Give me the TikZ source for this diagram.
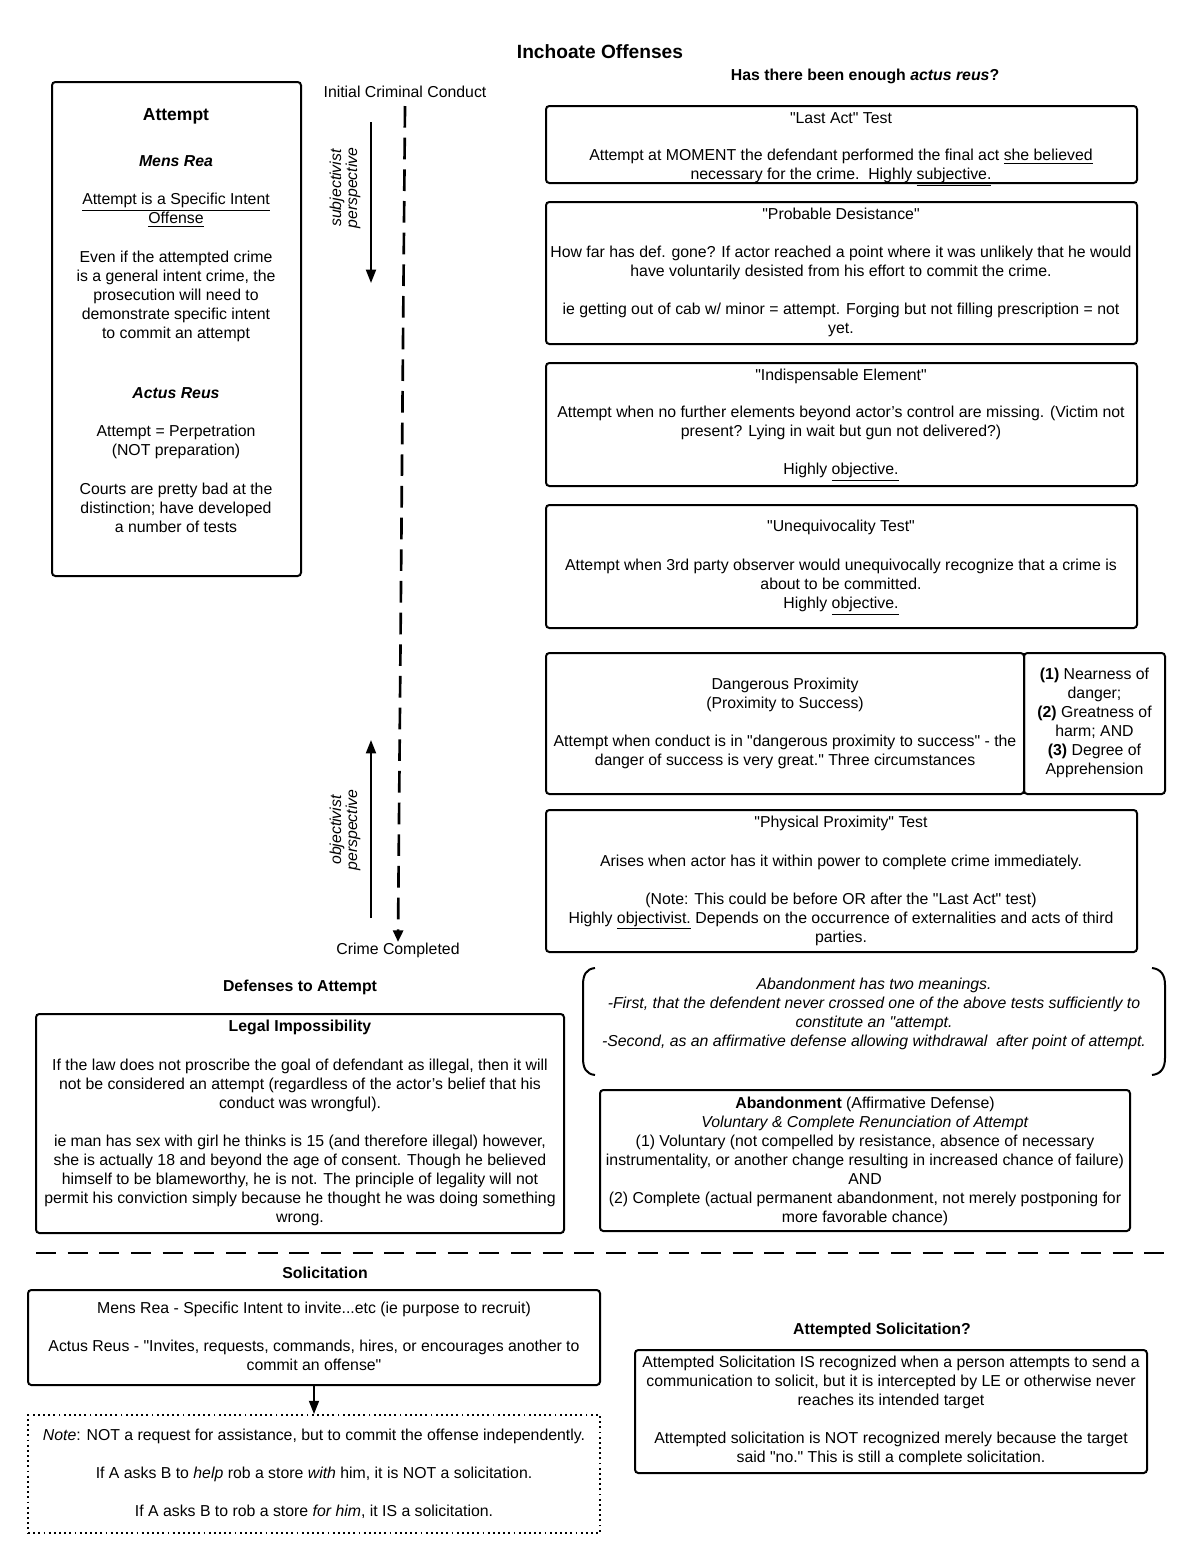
\documentclass[tikz,border=0pt]{standalone}
\usepackage{fontspec}
\setmainfont{Liberation Sans}
\usetikzlibrary{fit,arrows.meta}
\newcommand{\qd}{\textquotedbl}
\tikzset{
  box/.style={draw, line width=1.2pt, rounded corners=2pt, inner sep=0pt},
  dotbox/.style={draw, line width=1.1pt, dotted, inner sep=0pt},
  txt/.style={align=center, inner sep=0pt, font=\fontsize{9.5}{11.4}\selectfont},
  head/.style={align=center, inner sep=0pt, font=\fontsize{9.5}{11.4}\selectfont\bfseries},
  arr/.style={line width=1.1pt, -{Triangle[width=6pt,length=8pt]}},
  sidelab/.style={align=center, inner sep=0pt, rotate=90, font=\fontsize{9.5}{9.5}\selectfont\itshape},
}
\begin{document}
\begin{tikzpicture}[x=0.6pt,y=-0.6pt]
\useasboundingbox (0,0) rectangle (1200,1553);

% Title
\node[head, font=\fontsize{11.5}{13}\selectfont\bfseries] (title) at (600,52) {Inchoate Offenses};

% Attempt box
\node[box, fit={(52,82) (301,576)}] (attBox) {};
\node[head, font=\fontsize{10.5}{12}\selectfont\bfseries] (attTitle) at (176,116) {Attempt};
\node[head, font=\fontsize{9.5}{11.4}\selectfont\bfseries\itshape] (mensRea) at (176,161) {Mens Rea};
\node[txt] (specInt) at (176,210.5) {\underline{Attempt is a Specific Intent}\\\underline{Offense}};
\node[txt] (evenIf) at (176,296) {Even if the attempted crime\\is a general intent crime, the\\prosecution will need to\\demonstrate specific intent\\to commit an attempt};
\node[head, font=\fontsize{9.5}{11.4}\selectfont\bfseries\itshape] (actusReus) at (176,393) {Actus Reus};
\node[txt] (perp) at (176,441.5) {Attempt = Perpetration\\(NOT preparation)};
\node[txt] (courts) at (176,508) {Courts are pretty bad at the\\distinction; have developed\\a number of tests};

% Timeline
\node[txt] (initial) at (405,92) {Initial Criminal Conduct};
\node[txt] (completed) at (398,950) {Crime Completed};
\coordinate (dashTop) at (405,106);
\coordinate (dashBot) at (398,942);
\draw[line width=1.6pt, dash pattern=on 13pt off 6pt, -{Triangle[width=6pt,length=7pt]}] (dashTop) -- (dashBot);

\coordinate (subTop) at (371,122);
\coordinate (subBot) at (371,283);
\draw[arr] (subTop) -- (subBot);
\node[sidelab] (subLab) at (345,188) {subjectivist\\perspective};

\coordinate (objBot) at (371,918);
\coordinate (objTop) at (371,740);
\draw[arr] (objBot) -- (objTop);
\node[sidelab] (objLab) at (345,830) {objectivist\\perspective};

% Right column
\node[head] (actusQ) at (865,76) {Has there been enough \textit{actus reus}?};

\node[box, fit={(546,106) (1137,183)}] (lastBox) {};
\node[txt] (lastT) at (841,118) {\qd Last Act\qd\ Test};
\node[txt] (lastB) at (841,167.5) {Attempt at MOMENT the defendant performed the final act \underline{she believed}\\necessary for the crime.\ \ Highly \underline{subjective.}};

\node[box, fit={(546,202) (1137,344)}] (probBox) {};
\node[txt] (probT) at (841,214) {\qd Probable Desistance\qd};
\node[txt] (probB) at (841,291) {How far has def. gone? If actor reached a point where it was unlikely that he would\\have voluntarily desisted from his effort to commit the crime.\\[11.4pt]ie getting out of cab w/ minor = attempt. Forging but not filling prescription = not\\yet.};

\node[box, fit={(546,363) (1137,486)}] (indBox) {};
\node[txt] (indT) at (841,376) {\qd Indispensable Element\qd};
\node[txt] (indB) at (841,444) {Attempt when no further elements beyond actor's control are missing. (Victim not\\present? Lying in wait but gun not delivered?)\\[11.4pt]Highly \underline{objective.}};

\node[box, fit={(546,505) (1137,628)}] (uneqBox) {};
\node[txt] (uneqT) at (841,527) {\qd Unequivocality Test\qd};
\node[txt] (uneqB) at (841,587) {Attempt when 3rd party observer would unequivocally recognize that a crime is\\about to be committed.\\Highly \underline{objective.}};

\node[box, fit={(546,653) (1024,794)}] (dangBox) {};
\node[txt] (dangB) at (785,723) {Dangerous Proximity\\(Proximity to Success)\\[11.4pt]Attempt when conduct is in \qd dangerous proximity to success\qd\ - the\\danger of success is very great.\qd\ Three circumstances};
\node[box, fit={(1024,653) (1165,794)}] (circBox) {};
\node[txt] (circB) at (1094.5,722.5) {\textbf{(1)} Nearness of\\danger;\\\textbf{(2)} Greatness of\\harm; AND\\\textbf{(3)} Degree of\\Apprehension};

\node[box, fit={(546,810) (1137,952)}] (physBox) {};
\node[txt] (physT) at (841,823) {\qd Physical Proximity\qd\ Test};
\node[txt] (physB) at (841,900) {Arises when actor has it within power to complete crime immediately.\\[11.4pt](Note: This could be before OR after the \qd Last Act\qd\ test)\\Highly \underline{objectivist.} Depends on the occurrence of externalities and acts of third\\parties.};

% Defenses
\node[head] (defT) at (300,987) {Defenses to Attempt};
\node[box, fit={(36,1014) (564,1233)}] (legalBox) {};
\node[head] (legalT) at (300,1027) {Legal Impossibility};
\node[txt] (legalB) at (300,1142) {If the law does not proscribe the goal of defendant as illegal, then it will\\not be considered an attempt (regardless of the actor's belief that his\\conduct was wrongful).\\[11.4pt]ie man has sex with girl he thinks is 15 (and therefore illegal) however,\\she is actually 18 and beyond the age of consent. Though he believed\\himself to be blameworthy, he is not. The principle of legality will not\\permit his conviction simply because he thought he was doing something\\wrong.};

\node[txt, font=\fontsize{9.5}{11.4}\selectfont\itshape] (meanings) at (874,1014) {Abandonment has two meanings.\\-First, that the defendent never crossed one of the above tests sufficiently to\\constitute an \qd attempt.\\-Second, as an affirmative defense allowing withdrawal\ \ after point of attempt.};
\draw[line width=1.2pt] (595,968) .. controls (586,969) and (583,975) .. (583,985) -- (583,1058) .. controls (583,1068) and (586,1074) .. (595,1075);
\draw[line width=1.2pt] (1152,968) .. controls (1161,969) and (1165,975) .. (1165,985) -- (1165,1058) .. controls (1165,1068) and (1161,1074) .. (1152,1075);

\node[box, fit={(600,1090) (1130,1231)}] (abBox) {};
\node[txt] (abB) at (865,1161) {\textbf{Abandonment} (Affirmative Defense)\\\textit{Voluntary \& Complete Renunciation of Attempt}\\(1) Voluntary (not compelled by resistance, absence of necessary\\instrumentality, or another change resulting in increased chance of failure)\\AND\\(2) Complete (actual permanent abandonment, not merely postponing for\\more favorable chance)};

% Separator
\coordinate (sepL) at (36,1253);
\coordinate (sepR) at (1172,1253);
\draw[line width=1.2pt, dash pattern=on 12pt off 7pt] (sepL) -- (sepR);

% Solicitation
\node[head] (solT) at (325,1273) {Solicitation};
\node[box, fit={(28,1290) (600,1385)}] (solBox) {};
\node[txt] (solB) at (314,1336.5) {Mens Rea - Specific Intent to invite...etc (ie purpose to recruit)\\[11.4pt]Actus Reus - \qd Invites, requests, commands, hires, or encourages another to\\commit an offense\qd};
\node[dotbox, fit={(28,1415) (600,1533)}] (noteBox) {};
\node[txt] (noteB) at (314,1474) {\textit{Note}: NOT a request for assistance, but to commit the offense independently.\\[11.4pt]If A asks B to \textit{help} rob a store \textit{with} him, it is NOT a solicitation.\\[11.4pt]If A asks B to rob a store \textit{for him}, it IS a solicitation.};
\draw[arr] (solBox.south) -- (noteBox.north);

\node[head] (attSolT) at (882,1330) {Attempted Solicitation?};
\node[box, fit={(635,1350) (1147,1473)}] (attSolBox) {};
\node[txt] (attSolB) at (891,1410.5) {Attempted Solicitation IS recognized when a person attempts to send a\\communication to solicit, but it is intercepted by LE or otherwise never\\reaches its intended target\\[11.4pt]Attempted solicitation is NOT recognized merely because the target\\said \qd no.\qd\ This is still a complete solicitation.};
\end{tikzpicture}
\end{document}
